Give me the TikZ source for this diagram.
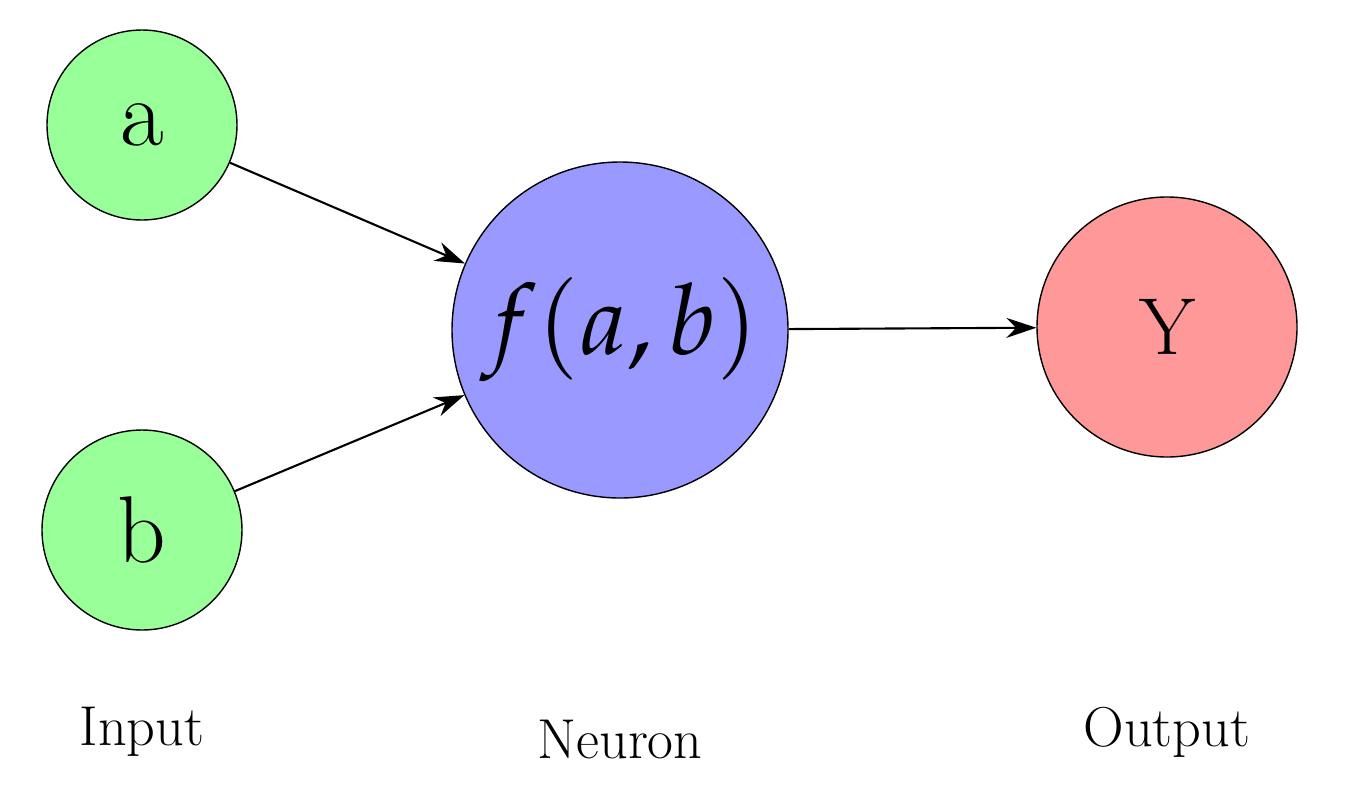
\documentclass[tikz,border=0pt]{standalone}
\usepackage{mathpazo}
\usetikzlibrary{arrows.meta}
\definecolor{gin}{HTML}{99FF99}
\definecolor{gneu}{HTML}{9999FF}
\definecolor{gout}{HTML}{FF9999}
\begin{document}
\begin{tikzpicture}[x=0.1mm,y=-0.1mm,
  circ/.style={circle,draw=black,line width=0.4pt,inner sep=0pt},
  lab/.style={font=\fontsize{16}{19}\selectfont},
  arr/.style={-{Stealth[length=3mm,width=2mm]},line width=0.6pt}]
\useasboundingbox (0,0) rectangle (1353,790);
\node[circ,fill=gin,minimum size=19mm,font=\fontsize{27}{30}\selectfont] (a) at (142,125) {a};
\node[circ,fill=gin,minimum size=20mm,font=\fontsize{27}{30}\selectfont] (b) at (142,530) {b};
\node[circ,fill=gneu,minimum size=33.6mm,font=\fontsize{28}{32}\selectfont] (n) at (620,330) {$f(a,b)$};
\node[circ,fill=gout,minimum size=26mm,font=\fontsize{23}{27}\selectfont] (y) at (1167,327) {Y};
\node[lab] (li) at (142,732) {Input};
\node[lab] (ln) at (620,740) {Neuron};
\node[lab] (lo) at (1167,732) {Output};
\draw[arr] (a) -- (n);
\draw[arr] (b) -- (n);
\draw[arr] (n) -- (y);
\end{tikzpicture}
\end{document}
